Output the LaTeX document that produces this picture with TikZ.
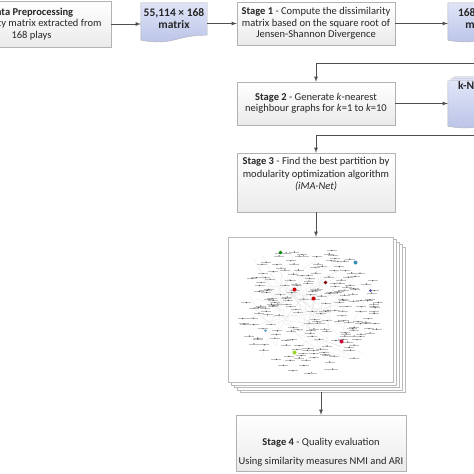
\documentclass[tikz,border=0pt]{standalone}
\usepackage{fontspec}
\setmainfont{Carlito}
\usetikzlibrary{calc,arrows,shadows,backgrounds}

\definecolor{docTop}{RGB}{224,229,247}
\definecolor{docBot}{RGB}{184,193,231}
\definecolor{lineGray}{RGB}{80,80,80}

\tikzset{
  stagebox/.style={draw=gray!60, top color=white, bottom color=gray!16,
    drop shadow={opacity=0.2,shadow xshift=1pt,shadow yshift=-1pt},
    align=center, font=\fontsize{10.5}{11.5}\selectfont, text=black!85, inner sep=2pt},
  docnode/.style={align=center, font=\fontsize{11.5}{12}\selectfont\bfseries,
    text=black!85, minimum width=66pt, minimum height=32pt, inner sep=0pt},
  docshape/.style={draw=gray!60, top color=docTop, bottom color=docBot},
  flow/.style={draw=lineGray, line width=0.8pt, -latex},
  page/.style={draw=gray!55, fill=white, line width=0.5pt},
}

\begin{document}
\begin{tikzpicture}[x=1pt,y=-1pt]
\useasboundingbox (0,0) rectangle (474,474);
\clip (0,0) rectangle (474,474);

% boxes and documents
\node[stagebox, minimum width=159pt, minimum height=46pt] (pre) at (31.5,24)
  {\textbf{Data Preprocessing}\\Frequency matrix extracted from\\168 plays};
\node[docnode] (m1) at (174,19) {55,114 × 168\\matrix};
\node[stagebox, minimum width=158pt, minimum height=43pt] (s1) at (316,23.5)
  {\textbf{Stage 1} - Compute the dissimilarity\\matrix based on the square root of\\Jensen-Shannon Divergence};
\node[docnode] (m2) at (481,19) {168 × 168\\matrix};
\node[stagebox, minimum width=158pt, minimum height=43pt] (s2) at (316,103.5)
  {\textbf{Stage 2} - Generate \textit{k}-nearest\\neighbour graphs for \textit{k}=1 to \textit{k}=10};
\node[docnode, minimum height=36pt, text width=46pt, align=left, text depth=32pt] (m3) at (481,101) {k-NN};
\node[stagebox, minimum width=158pt, minimum height=59pt, font=\fontsize{10.5}{12.5}\selectfont] (s3) at (316,182.5)
  {\textbf{Stage 3} - Find the best partition by\\modularity optimization algorithm\\\textit{(iMA-Net)}\rule[-18pt]{0pt}{18pt}};
\node[page, minimum width=165pt, minimum height=145pt, inner sep=0pt] (img) at (310.5,309.5) {};
\coordinate (last) at ([yshift=-10pt]img.south);
\node[stagebox, minimum width=170pt, minimum height=56pt] (s4) at (321,443)
  {\rule{0pt}{26pt}\textbf{Stage 4} - Quality evaluation\\[7pt]Using similarity measures NMI and ARI};

% document outlines and page stack
\begin{scope}[on background layer]
  \foreach \d in {m1,m2} {
    \path[docshape] (\d.north west) -- (\d.north east) -- (\d.south east)
      .. controls ($(\d.south)$) and ($(\d.south)+(0,-11pt)$) .. ($(\d.south west)+(0,-5pt)$) -- cycle;
  }
  \foreach \k in {2,1,0} {
    \path[docshape] ([xshift=\k*3pt,yshift=\k*2pt]m3.north west) -- ([xshift=\k*3pt,yshift=\k*2pt]m3.north east)
      -- ([xshift=\k*3pt,yshift=\k*2pt]m3.south east)
      .. controls ([xshift=\k*3pt,yshift=\k*2pt]m3.south) and ([xshift=\k*3pt,yshift=\k*2pt-11pt]m3.south)
      .. ([xshift=\k*3pt,yshift=\k*2pt-5pt]m3.south west) -- cycle;
  }
  \foreach \k in {4,3,2,1} {
    \draw[page] ([xshift=\k*3pt,yshift=-\k*2.5pt]img.south west) rectangle ([xshift=\k*3pt,yshift=-\k*2.5pt]img.north east);
  }
\end{scope}

% network snapshot
\begin{scope}[shift={(img.center)}]
  \pgfmathsetseed{42}
  \foreach \i in {1,...,30} {
    \pgfmathsetmacro\xa{62*rand} \pgfmathsetmacro\ya{55*rand}
    \pgfmathsetmacro\xb{62*rand} \pgfmathsetmacro\yb{55*rand}
    \pgfmathsetmacro\xc{50*rand} \pgfmathsetmacro\yc{45*rand}
    \draw[gray!18, line width=0.3pt] (\xa,\ya) .. controls (\xc,\yc) .. (\xb,\yb);
  }
  \foreach \i in {1,...,240} {
    \pgfmathsetmacro\ang{360*rnd}
    \pgfmathsetmacro\rad{sqrt(rnd)}
    \pgfmathsetmacro\px{70*\rad*cos(\ang)}
    \pgfmathsetmacro\py{64*\rad*sin(\ang)}
    \draw[gray!50, line width=0.7pt] (\px-5,\py) -- (\px+5,\py);
    \fill[black!70] (\px,\py) circle (0.7pt);
  }
  \fill[green!55!black] (-30,-57) circle (1.8pt);
  \fill[cyan!70!black] (45,-47) circle (2pt);
  \fill[red!80!black] (-16,-20) circle (2pt);
  \fill[red!80!black] (3,-11) circle (2pt);
  \fill[red!50!black] (15,-27) circle (1.8pt);
  \fill[purple!80!red] (31,32) circle (2pt);
  \fill[yellow!60!green] (-16,43) circle (2pt);
  \fill[cyan!50!gray] (-45,21) circle (1.5pt);
  \fill[blue!40!gray] (60,-19) circle (1.5pt);
\end{scope}

% connectors
\draw[flow] (pre.east) -- (pre.east -| m1.west);
\draw[flow] (m1.east |- s1.west) -- (s1.west);
\draw[flow] (s1.east) -- (s1.east -| m2.west);
\draw[flow] (m2.south) |- ($(s2.north)+(0,18pt)$) -- (s2.north);
\draw[flow] (s2.east) -- (s2.east -| m3.west);
\draw[flow] ([yshift=-8pt]m3.south) |- ($(s3.north)+(0,17pt)$) -- (s3.north);
\draw[flow] (s3.south) -- (s3.south |- img.north);
\draw[flow] (s4.north |- last) -- (s4.north);
\end{tikzpicture}
\end{document}
